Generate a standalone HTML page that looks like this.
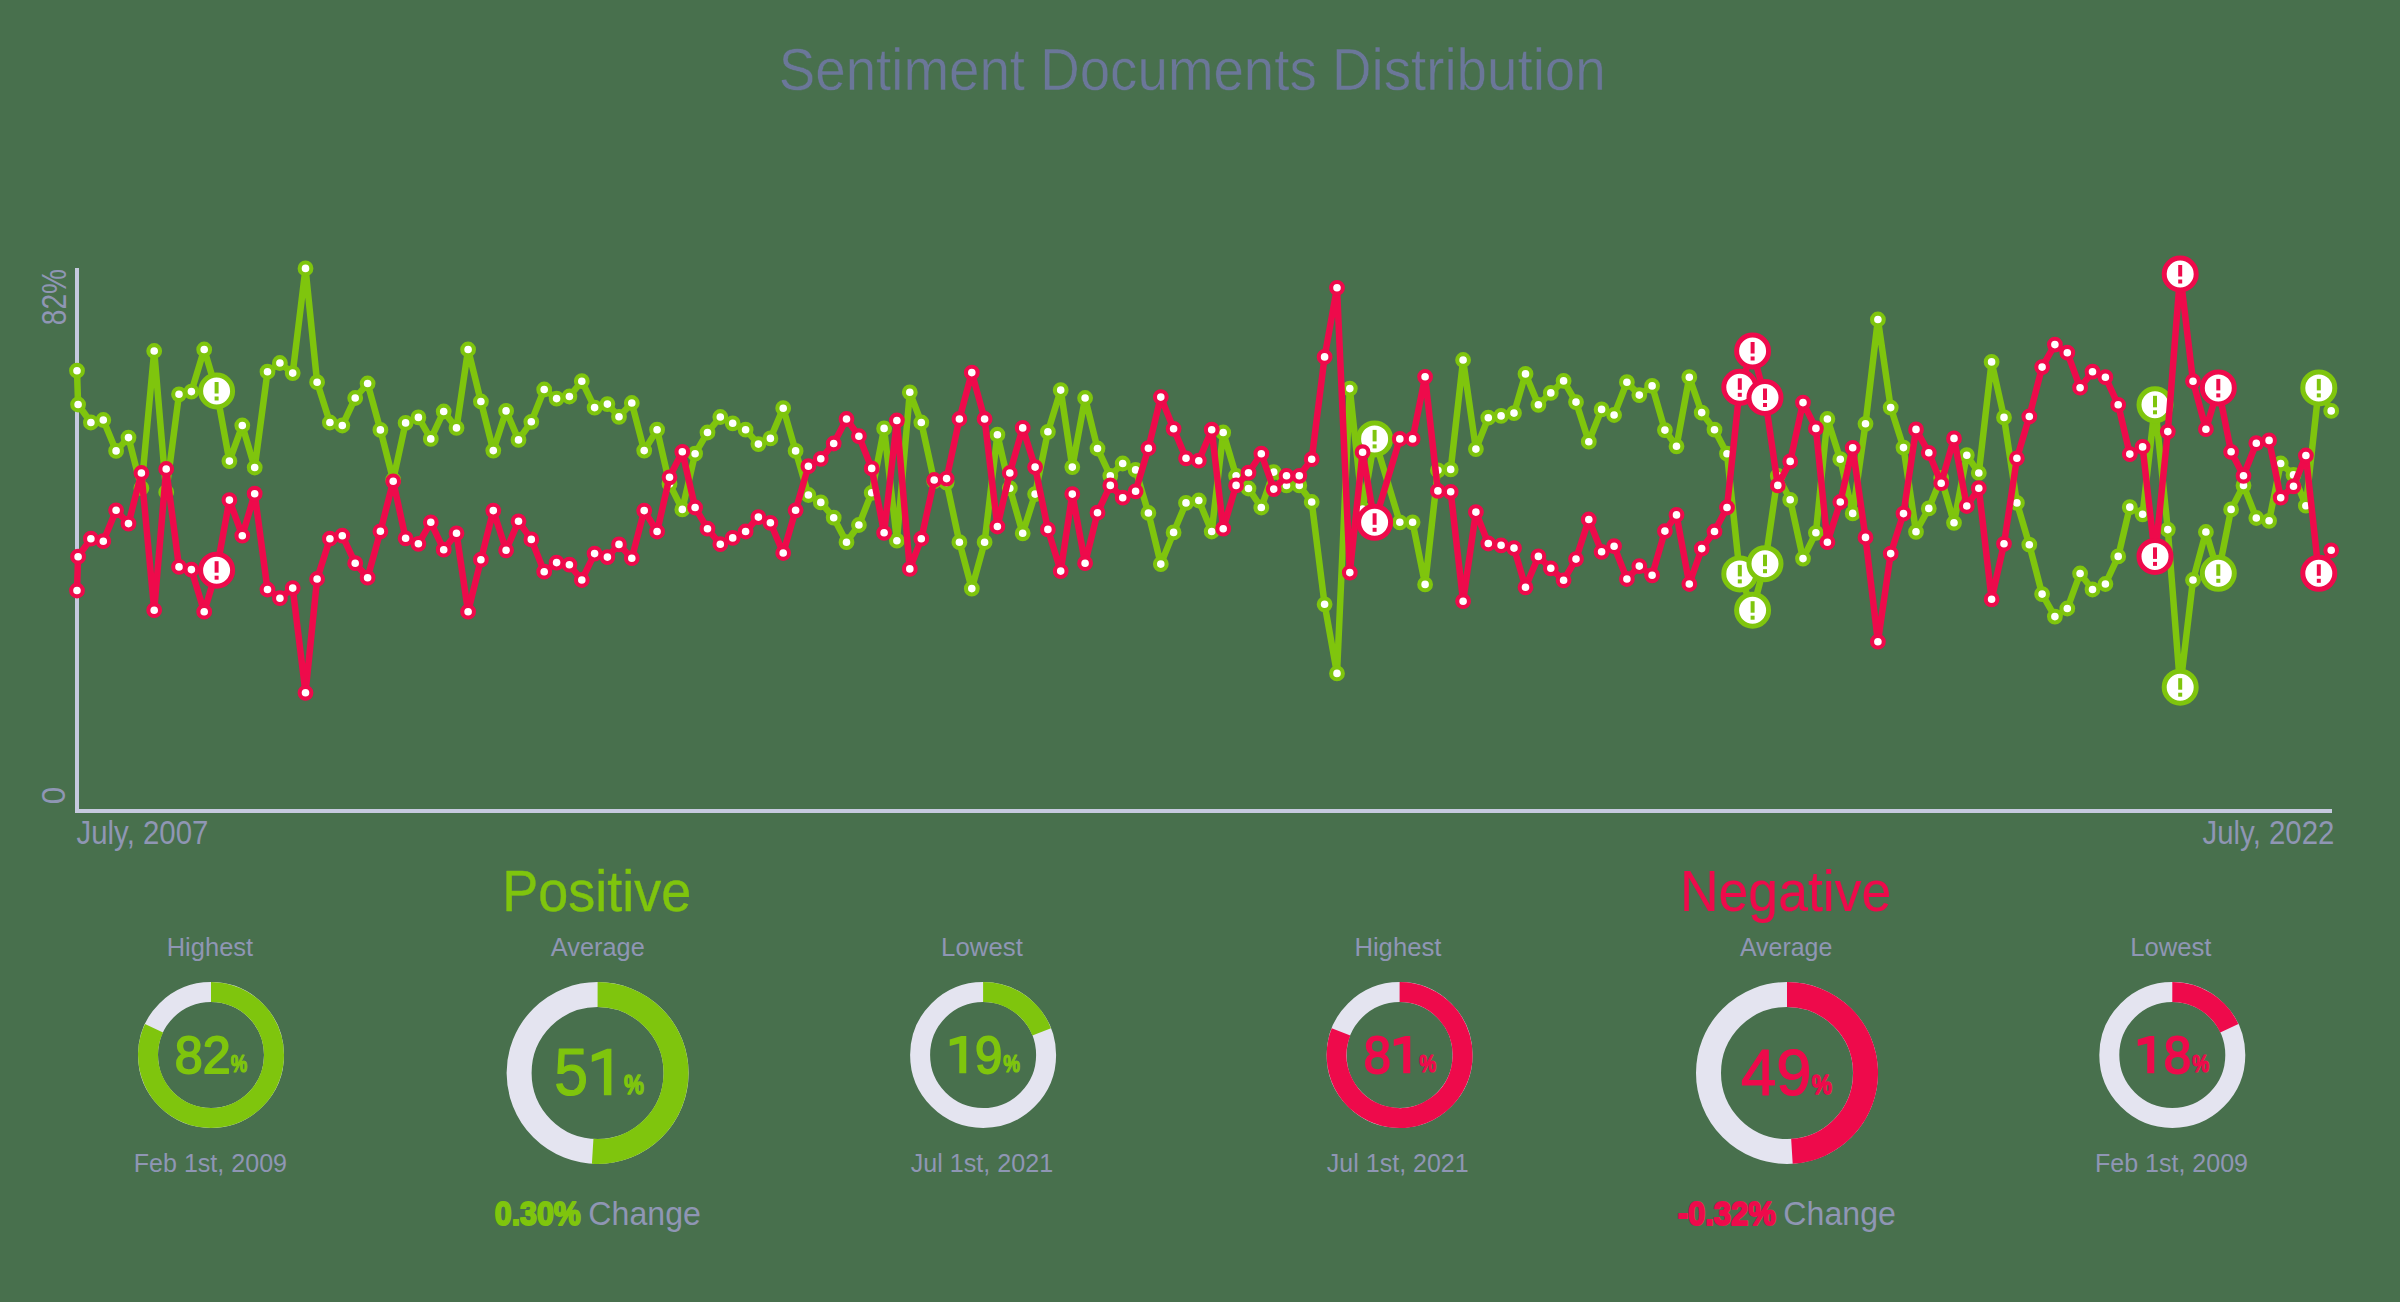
<!DOCTYPE html><html><head><meta charset="utf-8"><title>Sentiment Documents Distribution</title><style>html,body{margin:0;padding:0;background:#48704d;}svg{display:block}</style></head><body><svg width="2400" height="1302" viewBox="0 0 2400 1302" font-family="Liberation Sans, sans-serif">
<rect width="2400" height="1302" fill="#48704d"/>
<text transform="translate(778.73 90.25) scale(0.9294 1)" font-size="58.87" fill="#6b7799" stroke="#48704d" stroke-width="0.5">Sentiment Documents Distribution</text>
<path d="M77 268 V811 H2332" fill="none" stroke="#c6cadf" stroke-width="4"/>
<text transform="translate(0.00 0.00) rotate(-90) translate(-325.21 65.65) scale(0.7953 1)" font-size="35.31" fill="#8f96b4">82%</text>
<text transform="translate(0.00 0.00) rotate(-90) translate(-804.22 64.68) scale(0.9660 1)" font-size="32.49" fill="#8f96b4">0</text>
<text transform="translate(76.53 843.67) scale(0.8930 1)" font-size="32.95" fill="#8f96b4">July, 2007</text>
<text transform="translate(2202.53 843.67) scale(0.8930 1)" font-size="32.95" fill="#8f96b4">July, 2022</text>
<path d="M77.0 370.7 L78.1 404.5 L90.9 422.5 L103.3 420.0 L116.1 450.9 L128.5 437.6 L141.4 488.2 L154.2 351.0 L166.2 492.2 L179.0 394.3 L191.4 391.6 L204.2 349.5 L216.6 391.0 L229.4 461.1 L242.3 425.5 L254.7 467.5 L267.5 371.7 L279.9 363.0 L292.7 373.1 L305.5 268.4 L317.1 382.2 L329.9 422.5 L342.3 425.5 L355.2 398.0 L367.6 383.5 L380.4 429.9 L393.2 479.9 L405.6 422.9 L418.4 417.4 L430.8 438.9 L443.7 411.5 L456.5 427.9 L468.1 349.5 L480.9 401.5 L493.3 450.6 L506.1 410.9 L518.5 439.9 L531.3 421.8 L544.2 389.5 L556.6 398.6 L569.4 396.5 L581.8 381.2 L594.6 407.6 L607.4 404.1 L619.0 416.8 L631.8 403.0 L644.2 450.6 L657.1 429.7 L669.5 483.9 L682.3 509.4 L695.1 453.7 L707.5 432.5 L720.3 417.0 L732.7 423.3 L745.6 429.7 L758.4 444.1 L770.4 438.4 L783.2 408.2 L795.6 450.9 L808.4 495.0 L820.8 502.4 L833.7 517.7 L846.5 542.2 L858.9 525.0 L871.7 492.8 L884.1 428.4 L896.9 540.7 L909.8 392.3 L921.3 422.5 L934.2 481.2 L946.6 482.6 L959.4 542.2 L971.8 588.6 L984.6 542.2 L997.4 434.7 L1009.8 488.2 L1022.7 533.3 L1035.1 494.1 L1047.9 431.8 L1060.7 390.1 L1072.3 467.1 L1085.1 398.0 L1097.5 448.5 L1110.3 475.8 L1122.7 463.5 L1135.6 469.9 L1148.4 513.0 L1160.8 564.1 L1173.6 532.4 L1186.0 502.9 L1198.8 500.5 L1211.7 531.5 L1223.2 432.5 L1236.1 475.8 L1248.5 488.5 L1261.3 507.5 L1273.7 472.1 L1286.5 485.4 L1299.3 485.4 L1311.7 502.0 L1324.6 604.3 L1337.0 673.4 L1349.8 388.6 L1362.6 509.0 L1374.6 438.9 L1399.8 522.3 L1412.6 522.3 L1425.1 584.4 L1437.9 470.3 L1450.7 469.4 L1463.1 360.0 L1475.9 449.1 L1488.3 417.7 L1501.1 415.9 L1514.0 413.1 L1525.5 373.9 L1538.4 404.8 L1550.8 392.9 L1563.6 380.9 L1576.0 402.1 L1588.8 441.7 L1601.6 409.4 L1614.1 415.0 L1626.9 382.2 L1639.3 395.1 L1652.1 385.9 L1664.9 430.1 L1676.5 446.3 L1689.3 377.2 L1701.7 412.6 L1714.5 429.7 L1727.0 453.7 L1739.8 573.9 L1752.6 610.2 L1765.0 563.7 L1777.8 475.8 L1790.2 499.8 L1803.0 558.6 L1815.9 532.8 L1827.4 419.0 L1840.3 459.2 L1852.7 513.4 L1865.5 423.8 L1877.9 319.5 L1890.7 407.6 L1903.5 447.6 L1916.0 531.8 L1928.8 508.4 L1941.2 478.0 L1954.0 522.8 L1966.8 455.2 L1978.8 473.0 L1991.6 361.9 L2004.0 417.4 L2016.9 502.9 L2029.3 544.7 L2042.1 594.1 L2054.9 616.6 L2067.3 608.5 L2080.1 573.5 L2092.5 589.5 L2105.4 584.0 L2118.2 556.4 L2129.8 507.1 L2142.6 514.3 L2155.0 404.8 L2167.8 529.6 L2180.2 687.2 L2193.0 580.0 L2205.9 532.0 L2218.3 573.3 L2231.1 509.4 L2243.5 485.4 L2256.3 518.0 L2269.1 520.8 L2280.7 463.5 L2293.5 474.9 L2305.9 505.7 L2318.8 387.9 L2331.2 410.9" fill="none" stroke="#7fc50d" stroke-width="6.5" stroke-linejoin="round" stroke-linecap="round"/>
<g fill="#fff" stroke="#7fc50d" stroke-width="4.1">
<circle cx="77.0" cy="370.7" r="5.85"/>
<circle cx="78.1" cy="404.5" r="5.85"/>
<circle cx="90.9" cy="422.5" r="5.85"/>
<circle cx="103.3" cy="420.0" r="5.85"/>
<circle cx="116.1" cy="450.9" r="5.85"/>
<circle cx="128.5" cy="437.6" r="5.85"/>
<circle cx="141.4" cy="488.2" r="5.85"/>
<circle cx="154.2" cy="351.0" r="5.85"/>
<circle cx="166.2" cy="492.2" r="5.85"/>
<circle cx="179.0" cy="394.3" r="5.85"/>
<circle cx="191.4" cy="391.6" r="5.85"/>
<circle cx="204.2" cy="349.5" r="5.85"/>
<circle cx="229.4" cy="461.1" r="5.85"/>
<circle cx="242.3" cy="425.5" r="5.85"/>
<circle cx="254.7" cy="467.5" r="5.85"/>
<circle cx="267.5" cy="371.7" r="5.85"/>
<circle cx="279.9" cy="363.0" r="5.85"/>
<circle cx="292.7" cy="373.1" r="5.85"/>
<circle cx="305.5" cy="268.4" r="5.85"/>
<circle cx="317.1" cy="382.2" r="5.85"/>
<circle cx="329.9" cy="422.5" r="5.85"/>
<circle cx="342.3" cy="425.5" r="5.85"/>
<circle cx="355.2" cy="398.0" r="5.85"/>
<circle cx="367.6" cy="383.5" r="5.85"/>
<circle cx="380.4" cy="429.9" r="5.85"/>
<circle cx="393.2" cy="479.9" r="5.85"/>
<circle cx="405.6" cy="422.9" r="5.85"/>
<circle cx="418.4" cy="417.4" r="5.85"/>
<circle cx="430.8" cy="438.9" r="5.85"/>
<circle cx="443.7" cy="411.5" r="5.85"/>
<circle cx="456.5" cy="427.9" r="5.85"/>
<circle cx="468.1" cy="349.5" r="5.85"/>
<circle cx="480.9" cy="401.5" r="5.85"/>
<circle cx="493.3" cy="450.6" r="5.85"/>
<circle cx="506.1" cy="410.9" r="5.85"/>
<circle cx="518.5" cy="439.9" r="5.85"/>
<circle cx="531.3" cy="421.8" r="5.85"/>
<circle cx="544.2" cy="389.5" r="5.85"/>
<circle cx="556.6" cy="398.6" r="5.85"/>
<circle cx="569.4" cy="396.5" r="5.85"/>
<circle cx="581.8" cy="381.2" r="5.85"/>
<circle cx="594.6" cy="407.6" r="5.85"/>
<circle cx="607.4" cy="404.1" r="5.85"/>
<circle cx="619.0" cy="416.8" r="5.85"/>
<circle cx="631.8" cy="403.0" r="5.85"/>
<circle cx="644.2" cy="450.6" r="5.85"/>
<circle cx="657.1" cy="429.7" r="5.85"/>
<circle cx="669.5" cy="483.9" r="5.85"/>
<circle cx="682.3" cy="509.4" r="5.85"/>
<circle cx="695.1" cy="453.7" r="5.85"/>
<circle cx="707.5" cy="432.5" r="5.85"/>
<circle cx="720.3" cy="417.0" r="5.85"/>
<circle cx="732.7" cy="423.3" r="5.85"/>
<circle cx="745.6" cy="429.7" r="5.85"/>
<circle cx="758.4" cy="444.1" r="5.85"/>
<circle cx="770.4" cy="438.4" r="5.85"/>
<circle cx="783.2" cy="408.2" r="5.85"/>
<circle cx="795.6" cy="450.9" r="5.85"/>
<circle cx="808.4" cy="495.0" r="5.85"/>
<circle cx="820.8" cy="502.4" r="5.85"/>
<circle cx="833.7" cy="517.7" r="5.85"/>
<circle cx="846.5" cy="542.2" r="5.85"/>
<circle cx="858.9" cy="525.0" r="5.85"/>
<circle cx="871.7" cy="492.8" r="5.85"/>
<circle cx="884.1" cy="428.4" r="5.85"/>
<circle cx="896.9" cy="540.7" r="5.85"/>
<circle cx="909.8" cy="392.3" r="5.85"/>
<circle cx="921.3" cy="422.5" r="5.85"/>
<circle cx="934.2" cy="481.2" r="5.85"/>
<circle cx="946.6" cy="482.6" r="5.85"/>
<circle cx="959.4" cy="542.2" r="5.85"/>
<circle cx="971.8" cy="588.6" r="5.85"/>
<circle cx="984.6" cy="542.2" r="5.85"/>
<circle cx="997.4" cy="434.7" r="5.85"/>
<circle cx="1009.8" cy="488.2" r="5.85"/>
<circle cx="1022.7" cy="533.3" r="5.85"/>
<circle cx="1035.1" cy="494.1" r="5.85"/>
<circle cx="1047.9" cy="431.8" r="5.85"/>
<circle cx="1060.7" cy="390.1" r="5.85"/>
<circle cx="1072.3" cy="467.1" r="5.85"/>
<circle cx="1085.1" cy="398.0" r="5.85"/>
<circle cx="1097.5" cy="448.5" r="5.85"/>
<circle cx="1110.3" cy="475.8" r="5.85"/>
<circle cx="1122.7" cy="463.5" r="5.85"/>
<circle cx="1135.6" cy="469.9" r="5.85"/>
<circle cx="1148.4" cy="513.0" r="5.85"/>
<circle cx="1160.8" cy="564.1" r="5.85"/>
<circle cx="1173.6" cy="532.4" r="5.85"/>
<circle cx="1186.0" cy="502.9" r="5.85"/>
<circle cx="1198.8" cy="500.5" r="5.85"/>
<circle cx="1211.7" cy="531.5" r="5.85"/>
<circle cx="1223.2" cy="432.5" r="5.85"/>
<circle cx="1236.1" cy="475.8" r="5.85"/>
<circle cx="1248.5" cy="488.5" r="5.85"/>
<circle cx="1261.3" cy="507.5" r="5.85"/>
<circle cx="1273.7" cy="472.1" r="5.85"/>
<circle cx="1286.5" cy="485.4" r="5.85"/>
<circle cx="1299.3" cy="485.4" r="5.85"/>
<circle cx="1311.7" cy="502.0" r="5.85"/>
<circle cx="1324.6" cy="604.3" r="5.85"/>
<circle cx="1337.0" cy="673.4" r="5.85"/>
<circle cx="1349.8" cy="388.6" r="5.85"/>
<circle cx="1362.6" cy="509.0" r="5.85"/>
<circle cx="1399.8" cy="522.3" r="5.85"/>
<circle cx="1412.6" cy="522.3" r="5.85"/>
<circle cx="1425.1" cy="584.4" r="5.85"/>
<circle cx="1437.9" cy="470.3" r="5.85"/>
<circle cx="1450.7" cy="469.4" r="5.85"/>
<circle cx="1463.1" cy="360.0" r="5.85"/>
<circle cx="1475.9" cy="449.1" r="5.85"/>
<circle cx="1488.3" cy="417.7" r="5.85"/>
<circle cx="1501.1" cy="415.9" r="5.85"/>
<circle cx="1514.0" cy="413.1" r="5.85"/>
<circle cx="1525.5" cy="373.9" r="5.85"/>
<circle cx="1538.4" cy="404.8" r="5.85"/>
<circle cx="1550.8" cy="392.9" r="5.85"/>
<circle cx="1563.6" cy="380.9" r="5.85"/>
<circle cx="1576.0" cy="402.1" r="5.85"/>
<circle cx="1588.8" cy="441.7" r="5.85"/>
<circle cx="1601.6" cy="409.4" r="5.85"/>
<circle cx="1614.1" cy="415.0" r="5.85"/>
<circle cx="1626.9" cy="382.2" r="5.85"/>
<circle cx="1639.3" cy="395.1" r="5.85"/>
<circle cx="1652.1" cy="385.9" r="5.85"/>
<circle cx="1664.9" cy="430.1" r="5.85"/>
<circle cx="1676.5" cy="446.3" r="5.85"/>
<circle cx="1689.3" cy="377.2" r="5.85"/>
<circle cx="1701.7" cy="412.6" r="5.85"/>
<circle cx="1714.5" cy="429.7" r="5.85"/>
<circle cx="1727.0" cy="453.7" r="5.85"/>
<circle cx="1777.8" cy="475.8" r="5.85"/>
<circle cx="1790.2" cy="499.8" r="5.85"/>
<circle cx="1803.0" cy="558.6" r="5.85"/>
<circle cx="1815.9" cy="532.8" r="5.85"/>
<circle cx="1827.4" cy="419.0" r="5.85"/>
<circle cx="1840.3" cy="459.2" r="5.85"/>
<circle cx="1852.7" cy="513.4" r="5.85"/>
<circle cx="1865.5" cy="423.8" r="5.85"/>
<circle cx="1877.9" cy="319.5" r="5.85"/>
<circle cx="1890.7" cy="407.6" r="5.85"/>
<circle cx="1903.5" cy="447.6" r="5.85"/>
<circle cx="1916.0" cy="531.8" r="5.85"/>
<circle cx="1928.8" cy="508.4" r="5.85"/>
<circle cx="1941.2" cy="478.0" r="5.85"/>
<circle cx="1954.0" cy="522.8" r="5.85"/>
<circle cx="1966.8" cy="455.2" r="5.85"/>
<circle cx="1978.8" cy="473.0" r="5.85"/>
<circle cx="1991.6" cy="361.9" r="5.85"/>
<circle cx="2004.0" cy="417.4" r="5.85"/>
<circle cx="2016.9" cy="502.9" r="5.85"/>
<circle cx="2029.3" cy="544.7" r="5.85"/>
<circle cx="2042.1" cy="594.1" r="5.85"/>
<circle cx="2054.9" cy="616.6" r="5.85"/>
<circle cx="2067.3" cy="608.5" r="5.85"/>
<circle cx="2080.1" cy="573.5" r="5.85"/>
<circle cx="2092.5" cy="589.5" r="5.85"/>
<circle cx="2105.4" cy="584.0" r="5.85"/>
<circle cx="2118.2" cy="556.4" r="5.85"/>
<circle cx="2129.8" cy="507.1" r="5.85"/>
<circle cx="2142.6" cy="514.3" r="5.85"/>
<circle cx="2167.8" cy="529.6" r="5.85"/>
<circle cx="2193.0" cy="580.0" r="5.85"/>
<circle cx="2205.9" cy="532.0" r="5.85"/>
<circle cx="2231.1" cy="509.4" r="5.85"/>
<circle cx="2243.5" cy="485.4" r="5.85"/>
<circle cx="2256.3" cy="518.0" r="5.85"/>
<circle cx="2269.1" cy="520.8" r="5.85"/>
<circle cx="2280.7" cy="463.5" r="5.85"/>
<circle cx="2293.5" cy="474.9" r="5.85"/>
<circle cx="2305.9" cy="505.7" r="5.85"/>
<circle cx="2331.2" cy="410.9" r="5.85"/>
</g>
<g transform="translate(216.6 391.0)"><circle r="16" fill="#fff" stroke="#7fc50d" stroke-width="5"/><rect x="-2" y="-9" width="4" height="11.5" fill="#7fc50d"/><rect x="-2" y="5.5" width="4" height="4" fill="#7fc50d"/></g>
<g transform="translate(1374.6 438.9)"><circle r="16" fill="#fff" stroke="#7fc50d" stroke-width="5"/><rect x="-2" y="-9" width="4" height="11.5" fill="#7fc50d"/><rect x="-2" y="5.5" width="4" height="4" fill="#7fc50d"/></g>
<g transform="translate(1739.8 573.9)"><circle r="16" fill="#fff" stroke="#7fc50d" stroke-width="5"/><rect x="-2" y="-9" width="4" height="11.5" fill="#7fc50d"/><rect x="-2" y="5.5" width="4" height="4" fill="#7fc50d"/></g>
<g transform="translate(1752.6 610.2)"><circle r="16" fill="#fff" stroke="#7fc50d" stroke-width="5"/><rect x="-2" y="-9" width="4" height="11.5" fill="#7fc50d"/><rect x="-2" y="5.5" width="4" height="4" fill="#7fc50d"/></g>
<g transform="translate(1765.0 563.7)"><circle r="16" fill="#fff" stroke="#7fc50d" stroke-width="5"/><rect x="-2" y="-9" width="4" height="11.5" fill="#7fc50d"/><rect x="-2" y="5.5" width="4" height="4" fill="#7fc50d"/></g>
<g transform="translate(2155.0 404.8)"><circle r="16" fill="#fff" stroke="#7fc50d" stroke-width="5"/><rect x="-2" y="-9" width="4" height="11.5" fill="#7fc50d"/><rect x="-2" y="5.5" width="4" height="4" fill="#7fc50d"/></g>
<g transform="translate(2180.2 687.2)"><circle r="16" fill="#fff" stroke="#7fc50d" stroke-width="5"/><rect x="-2" y="-9" width="4" height="11.5" fill="#7fc50d"/><rect x="-2" y="5.5" width="4" height="4" fill="#7fc50d"/></g>
<g transform="translate(2218.3 573.3)"><circle r="16" fill="#fff" stroke="#7fc50d" stroke-width="5"/><rect x="-2" y="-9" width="4" height="11.5" fill="#7fc50d"/><rect x="-2" y="5.5" width="4" height="4" fill="#7fc50d"/></g>
<g transform="translate(2318.8 387.9)"><circle r="16" fill="#fff" stroke="#7fc50d" stroke-width="5"/><rect x="-2" y="-9" width="4" height="11.5" fill="#7fc50d"/><rect x="-2" y="5.5" width="4" height="4" fill="#7fc50d"/></g>
<path d="M77.0 590.5 L78.1 556.7 L90.9 538.7 L103.3 541.2 L116.1 510.3 L128.5 523.6 L141.4 473.0 L154.2 610.2 L166.2 469.0 L179.0 566.9 L191.4 569.6 L204.2 611.7 L216.6 570.2 L229.4 500.1 L242.3 535.7 L254.7 493.7 L267.5 589.5 L279.9 598.2 L292.7 588.1 L305.5 692.8 L317.1 579.0 L329.9 538.7 L342.3 535.7 L355.2 563.2 L367.6 577.7 L380.4 531.3 L393.2 481.3 L405.6 538.3 L418.4 543.8 L430.8 522.3 L443.7 549.7 L456.5 533.3 L468.1 611.7 L480.9 559.7 L493.3 510.6 L506.1 550.3 L518.5 521.3 L531.3 539.4 L544.2 571.7 L556.6 562.6 L569.4 564.7 L581.8 580.0 L594.6 553.6 L607.4 557.1 L619.0 544.4 L631.8 558.2 L644.2 510.6 L657.1 531.5 L669.5 477.3 L682.3 451.8 L695.1 507.5 L707.5 528.7 L720.3 544.2 L732.7 537.9 L745.6 531.5 L758.4 517.1 L770.4 522.8 L783.2 553.0 L795.6 510.3 L808.4 466.2 L820.8 458.8 L833.7 443.5 L846.5 419.0 L858.9 436.2 L871.7 468.4 L884.1 532.8 L896.9 420.5 L909.8 568.9 L921.3 538.7 L934.2 480.0 L946.6 478.6 L959.4 419.0 L971.8 372.6 L984.6 419.0 L997.4 526.5 L1009.8 473.0 L1022.7 427.9 L1035.1 467.1 L1047.9 529.4 L1060.7 571.1 L1072.3 494.1 L1085.1 563.2 L1097.5 512.7 L1110.3 485.4 L1122.7 497.7 L1135.6 491.3 L1148.4 448.2 L1160.8 397.1 L1173.6 428.8 L1186.0 458.3 L1198.8 460.7 L1211.7 429.7 L1223.2 528.7 L1236.1 485.4 L1248.5 472.7 L1261.3 453.7 L1273.7 489.1 L1286.5 475.8 L1299.3 475.8 L1311.7 459.2 L1324.6 356.9 L1337.0 287.8 L1349.8 572.6 L1362.6 452.2 L1374.6 522.3 L1399.8 438.9 L1412.6 438.9 L1425.1 376.8 L1437.9 490.9 L1450.7 491.8 L1463.1 601.2 L1475.9 512.1 L1488.3 543.5 L1501.1 545.3 L1514.0 548.1 L1525.5 587.3 L1538.4 556.4 L1550.8 568.3 L1563.6 580.3 L1576.0 559.1 L1588.8 519.5 L1601.6 551.8 L1614.1 546.2 L1626.9 579.0 L1639.3 566.1 L1652.1 575.3 L1664.9 531.1 L1676.5 514.9 L1689.3 584.0 L1701.7 548.6 L1714.5 531.5 L1727.0 507.5 L1739.8 387.3 L1752.6 351.0 L1765.0 397.5 L1777.8 485.4 L1790.2 461.4 L1803.0 402.6 L1815.9 428.4 L1827.4 542.2 L1840.3 502.0 L1852.7 447.8 L1865.5 537.4 L1877.9 641.7 L1890.7 553.6 L1903.5 513.6 L1916.0 429.4 L1928.8 452.8 L1941.2 483.2 L1954.0 438.4 L1966.8 506.0 L1978.8 488.2 L1991.6 599.3 L2004.0 543.8 L2016.9 458.3 L2029.3 416.5 L2042.1 367.1 L2054.9 344.6 L2067.3 352.7 L2080.1 387.7 L2092.5 371.7 L2105.4 377.2 L2118.2 404.8 L2129.8 454.1 L2142.6 446.9 L2155.0 556.4 L2167.8 431.6 L2180.2 274.0 L2193.0 381.2 L2205.9 429.2 L2218.3 387.9 L2231.1 451.8 L2243.5 475.8 L2256.3 443.2 L2269.1 440.4 L2280.7 497.7 L2293.5 486.3 L2305.9 455.5 L2318.8 573.3 L2331.2 550.3" fill="none" stroke="#ee0a4b" stroke-width="6.5" stroke-linejoin="round" stroke-linecap="round"/>
<g fill="#fff" stroke="#ee0a4b" stroke-width="4.1">
<circle cx="77.0" cy="590.5" r="5.85"/>
<circle cx="78.1" cy="556.7" r="5.85"/>
<circle cx="90.9" cy="538.7" r="5.85"/>
<circle cx="103.3" cy="541.2" r="5.85"/>
<circle cx="116.1" cy="510.3" r="5.85"/>
<circle cx="128.5" cy="523.6" r="5.85"/>
<circle cx="141.4" cy="473.0" r="5.85"/>
<circle cx="154.2" cy="610.2" r="5.85"/>
<circle cx="166.2" cy="469.0" r="5.85"/>
<circle cx="179.0" cy="566.9" r="5.85"/>
<circle cx="191.4" cy="569.6" r="5.85"/>
<circle cx="204.2" cy="611.7" r="5.85"/>
<circle cx="229.4" cy="500.1" r="5.85"/>
<circle cx="242.3" cy="535.7" r="5.85"/>
<circle cx="254.7" cy="493.7" r="5.85"/>
<circle cx="267.5" cy="589.5" r="5.85"/>
<circle cx="279.9" cy="598.2" r="5.85"/>
<circle cx="292.7" cy="588.1" r="5.85"/>
<circle cx="305.5" cy="692.8" r="5.85"/>
<circle cx="317.1" cy="579.0" r="5.85"/>
<circle cx="329.9" cy="538.7" r="5.85"/>
<circle cx="342.3" cy="535.7" r="5.85"/>
<circle cx="355.2" cy="563.2" r="5.85"/>
<circle cx="367.6" cy="577.7" r="5.85"/>
<circle cx="380.4" cy="531.3" r="5.85"/>
<circle cx="393.2" cy="481.3" r="5.85"/>
<circle cx="405.6" cy="538.3" r="5.85"/>
<circle cx="418.4" cy="543.8" r="5.85"/>
<circle cx="430.8" cy="522.3" r="5.85"/>
<circle cx="443.7" cy="549.7" r="5.85"/>
<circle cx="456.5" cy="533.3" r="5.85"/>
<circle cx="468.1" cy="611.7" r="5.85"/>
<circle cx="480.9" cy="559.7" r="5.85"/>
<circle cx="493.3" cy="510.6" r="5.85"/>
<circle cx="506.1" cy="550.3" r="5.85"/>
<circle cx="518.5" cy="521.3" r="5.85"/>
<circle cx="531.3" cy="539.4" r="5.85"/>
<circle cx="544.2" cy="571.7" r="5.85"/>
<circle cx="556.6" cy="562.6" r="5.85"/>
<circle cx="569.4" cy="564.7" r="5.85"/>
<circle cx="581.8" cy="580.0" r="5.85"/>
<circle cx="594.6" cy="553.6" r="5.85"/>
<circle cx="607.4" cy="557.1" r="5.85"/>
<circle cx="619.0" cy="544.4" r="5.85"/>
<circle cx="631.8" cy="558.2" r="5.85"/>
<circle cx="644.2" cy="510.6" r="5.85"/>
<circle cx="657.1" cy="531.5" r="5.85"/>
<circle cx="669.5" cy="477.3" r="5.85"/>
<circle cx="682.3" cy="451.8" r="5.85"/>
<circle cx="695.1" cy="507.5" r="5.85"/>
<circle cx="707.5" cy="528.7" r="5.85"/>
<circle cx="720.3" cy="544.2" r="5.85"/>
<circle cx="732.7" cy="537.9" r="5.85"/>
<circle cx="745.6" cy="531.5" r="5.85"/>
<circle cx="758.4" cy="517.1" r="5.85"/>
<circle cx="770.4" cy="522.8" r="5.85"/>
<circle cx="783.2" cy="553.0" r="5.85"/>
<circle cx="795.6" cy="510.3" r="5.85"/>
<circle cx="808.4" cy="466.2" r="5.85"/>
<circle cx="820.8" cy="458.8" r="5.85"/>
<circle cx="833.7" cy="443.5" r="5.85"/>
<circle cx="846.5" cy="419.0" r="5.85"/>
<circle cx="858.9" cy="436.2" r="5.85"/>
<circle cx="871.7" cy="468.4" r="5.85"/>
<circle cx="884.1" cy="532.8" r="5.85"/>
<circle cx="896.9" cy="420.5" r="5.85"/>
<circle cx="909.8" cy="568.9" r="5.85"/>
<circle cx="921.3" cy="538.7" r="5.85"/>
<circle cx="934.2" cy="480.0" r="5.85"/>
<circle cx="946.6" cy="478.6" r="5.85"/>
<circle cx="959.4" cy="419.0" r="5.85"/>
<circle cx="971.8" cy="372.6" r="5.85"/>
<circle cx="984.6" cy="419.0" r="5.85"/>
<circle cx="997.4" cy="526.5" r="5.85"/>
<circle cx="1009.8" cy="473.0" r="5.85"/>
<circle cx="1022.7" cy="427.9" r="5.85"/>
<circle cx="1035.1" cy="467.1" r="5.85"/>
<circle cx="1047.9" cy="529.4" r="5.85"/>
<circle cx="1060.7" cy="571.1" r="5.85"/>
<circle cx="1072.3" cy="494.1" r="5.85"/>
<circle cx="1085.1" cy="563.2" r="5.85"/>
<circle cx="1097.5" cy="512.7" r="5.85"/>
<circle cx="1110.3" cy="485.4" r="5.85"/>
<circle cx="1122.7" cy="497.7" r="5.85"/>
<circle cx="1135.6" cy="491.3" r="5.85"/>
<circle cx="1148.4" cy="448.2" r="5.85"/>
<circle cx="1160.8" cy="397.1" r="5.85"/>
<circle cx="1173.6" cy="428.8" r="5.85"/>
<circle cx="1186.0" cy="458.3" r="5.85"/>
<circle cx="1198.8" cy="460.7" r="5.85"/>
<circle cx="1211.7" cy="429.7" r="5.85"/>
<circle cx="1223.2" cy="528.7" r="5.85"/>
<circle cx="1236.1" cy="485.4" r="5.85"/>
<circle cx="1248.5" cy="472.7" r="5.85"/>
<circle cx="1261.3" cy="453.7" r="5.85"/>
<circle cx="1273.7" cy="489.1" r="5.85"/>
<circle cx="1286.5" cy="475.8" r="5.85"/>
<circle cx="1299.3" cy="475.8" r="5.85"/>
<circle cx="1311.7" cy="459.2" r="5.85"/>
<circle cx="1324.6" cy="356.9" r="5.85"/>
<circle cx="1337.0" cy="287.8" r="5.85"/>
<circle cx="1349.8" cy="572.6" r="5.85"/>
<circle cx="1362.6" cy="452.2" r="5.85"/>
<circle cx="1399.8" cy="438.9" r="5.85"/>
<circle cx="1412.6" cy="438.9" r="5.85"/>
<circle cx="1425.1" cy="376.8" r="5.85"/>
<circle cx="1437.9" cy="490.9" r="5.85"/>
<circle cx="1450.7" cy="491.8" r="5.85"/>
<circle cx="1463.1" cy="601.2" r="5.85"/>
<circle cx="1475.9" cy="512.1" r="5.85"/>
<circle cx="1488.3" cy="543.5" r="5.85"/>
<circle cx="1501.1" cy="545.3" r="5.85"/>
<circle cx="1514.0" cy="548.1" r="5.85"/>
<circle cx="1525.5" cy="587.3" r="5.85"/>
<circle cx="1538.4" cy="556.4" r="5.85"/>
<circle cx="1550.8" cy="568.3" r="5.85"/>
<circle cx="1563.6" cy="580.3" r="5.85"/>
<circle cx="1576.0" cy="559.1" r="5.85"/>
<circle cx="1588.8" cy="519.5" r="5.85"/>
<circle cx="1601.6" cy="551.8" r="5.85"/>
<circle cx="1614.1" cy="546.2" r="5.85"/>
<circle cx="1626.9" cy="579.0" r="5.85"/>
<circle cx="1639.3" cy="566.1" r="5.85"/>
<circle cx="1652.1" cy="575.3" r="5.85"/>
<circle cx="1664.9" cy="531.1" r="5.85"/>
<circle cx="1676.5" cy="514.9" r="5.85"/>
<circle cx="1689.3" cy="584.0" r="5.85"/>
<circle cx="1701.7" cy="548.6" r="5.85"/>
<circle cx="1714.5" cy="531.5" r="5.85"/>
<circle cx="1727.0" cy="507.5" r="5.85"/>
<circle cx="1777.8" cy="485.4" r="5.85"/>
<circle cx="1790.2" cy="461.4" r="5.85"/>
<circle cx="1803.0" cy="402.6" r="5.85"/>
<circle cx="1815.9" cy="428.4" r="5.85"/>
<circle cx="1827.4" cy="542.2" r="5.85"/>
<circle cx="1840.3" cy="502.0" r="5.85"/>
<circle cx="1852.7" cy="447.8" r="5.85"/>
<circle cx="1865.5" cy="537.4" r="5.85"/>
<circle cx="1877.9" cy="641.7" r="5.85"/>
<circle cx="1890.7" cy="553.6" r="5.85"/>
<circle cx="1903.5" cy="513.6" r="5.85"/>
<circle cx="1916.0" cy="429.4" r="5.85"/>
<circle cx="1928.8" cy="452.8" r="5.85"/>
<circle cx="1941.2" cy="483.2" r="5.85"/>
<circle cx="1954.0" cy="438.4" r="5.85"/>
<circle cx="1966.8" cy="506.0" r="5.85"/>
<circle cx="1978.8" cy="488.2" r="5.85"/>
<circle cx="1991.6" cy="599.3" r="5.85"/>
<circle cx="2004.0" cy="543.8" r="5.85"/>
<circle cx="2016.9" cy="458.3" r="5.85"/>
<circle cx="2029.3" cy="416.5" r="5.85"/>
<circle cx="2042.1" cy="367.1" r="5.85"/>
<circle cx="2054.9" cy="344.6" r="5.85"/>
<circle cx="2067.3" cy="352.7" r="5.85"/>
<circle cx="2080.1" cy="387.7" r="5.85"/>
<circle cx="2092.5" cy="371.7" r="5.85"/>
<circle cx="2105.4" cy="377.2" r="5.85"/>
<circle cx="2118.2" cy="404.8" r="5.85"/>
<circle cx="2129.8" cy="454.1" r="5.85"/>
<circle cx="2142.6" cy="446.9" r="5.85"/>
<circle cx="2167.8" cy="431.6" r="5.85"/>
<circle cx="2193.0" cy="381.2" r="5.85"/>
<circle cx="2205.9" cy="429.2" r="5.85"/>
<circle cx="2231.1" cy="451.8" r="5.85"/>
<circle cx="2243.5" cy="475.8" r="5.85"/>
<circle cx="2256.3" cy="443.2" r="5.85"/>
<circle cx="2269.1" cy="440.4" r="5.85"/>
<circle cx="2280.7" cy="497.7" r="5.85"/>
<circle cx="2293.5" cy="486.3" r="5.85"/>
<circle cx="2305.9" cy="455.5" r="5.85"/>
<circle cx="2331.2" cy="550.3" r="5.85"/>
</g>
<g transform="translate(216.6 570.2)"><circle r="16" fill="#fff" stroke="#ee0a4b" stroke-width="5"/><rect x="-2" y="-9" width="4" height="11.5" fill="#ee0a4b"/><rect x="-2" y="5.5" width="4" height="4" fill="#ee0a4b"/></g>
<g transform="translate(1374.6 522.3)"><circle r="16" fill="#fff" stroke="#ee0a4b" stroke-width="5"/><rect x="-2" y="-9" width="4" height="11.5" fill="#ee0a4b"/><rect x="-2" y="5.5" width="4" height="4" fill="#ee0a4b"/></g>
<g transform="translate(1739.8 387.3)"><circle r="16" fill="#fff" stroke="#ee0a4b" stroke-width="5"/><rect x="-2" y="-9" width="4" height="11.5" fill="#ee0a4b"/><rect x="-2" y="5.5" width="4" height="4" fill="#ee0a4b"/></g>
<g transform="translate(1752.6 351.0)"><circle r="16" fill="#fff" stroke="#ee0a4b" stroke-width="5"/><rect x="-2" y="-9" width="4" height="11.5" fill="#ee0a4b"/><rect x="-2" y="5.5" width="4" height="4" fill="#ee0a4b"/></g>
<g transform="translate(1765.0 397.5)"><circle r="16" fill="#fff" stroke="#ee0a4b" stroke-width="5"/><rect x="-2" y="-9" width="4" height="11.5" fill="#ee0a4b"/><rect x="-2" y="5.5" width="4" height="4" fill="#ee0a4b"/></g>
<g transform="translate(2155.0 556.4)"><circle r="16" fill="#fff" stroke="#ee0a4b" stroke-width="5"/><rect x="-2" y="-9" width="4" height="11.5" fill="#ee0a4b"/><rect x="-2" y="5.5" width="4" height="4" fill="#ee0a4b"/></g>
<g transform="translate(2180.2 274.0)"><circle r="16" fill="#fff" stroke="#ee0a4b" stroke-width="5"/><rect x="-2" y="-9" width="4" height="11.5" fill="#ee0a4b"/><rect x="-2" y="5.5" width="4" height="4" fill="#ee0a4b"/></g>
<g transform="translate(2218.3 387.9)"><circle r="16" fill="#fff" stroke="#ee0a4b" stroke-width="5"/><rect x="-2" y="-9" width="4" height="11.5" fill="#ee0a4b"/><rect x="-2" y="5.5" width="4" height="4" fill="#ee0a4b"/></g>
<g transform="translate(2318.8 573.3)"><circle r="16" fill="#fff" stroke="#ee0a4b" stroke-width="5"/><rect x="-2" y="-9" width="4" height="11.5" fill="#ee0a4b"/><rect x="-2" y="5.5" width="4" height="4" fill="#ee0a4b"/></g>
<text transform="translate(502.28 910.70) scale(0.9398 1)" font-size="57.41" fill="#7fc50d" stroke="#7fc50d" stroke-width="0.4" stroke-linejoin="round">Positive</text>
<text transform="translate(1679.91 910.80) scale(0.9280 1)" font-size="57.70" fill="#ee0a4b" stroke="#ee0a4b" stroke-width="0.2" stroke-linejoin="round">Negative</text>
<text transform="translate(166.71 956.00) scale(0.9639 1)" font-size="26.45" fill="#8f96b4">Highest</text>
<circle cx="211" cy="1055" r="63.0" fill="none" stroke="#e4e4f0" stroke-width="20"/>
<path d="M211 992.0 A63.0 63.0 0 1 1 154.00 1028.18" fill="none" stroke="#7fc50d" stroke-width="20"/>
<text transform="translate(174.74 1072.83) scale(0.9733 1)" font-size="51.62" fill="#7fc50d" stroke="#7fc50d" stroke-width="1.8" stroke-linejoin="round">82</text>
<text transform="translate(230.64 1072.46) scale(0.7662 1)" font-size="24.22" fill="#7fc50d" font-weight="bold" stroke="#7fc50d" stroke-width="1.2" stroke-linejoin="round">%</text>
<text transform="translate(133.74 1172.30) scale(0.9747 1)" font-size="25.73" fill="#8f96b4">Feb 1st, 2009</text>
<text transform="translate(550.85 956.00) scale(0.9585 1)" font-size="26.45" fill="#8f96b4">Average</text>
<circle cx="597.6" cy="1073" r="78.5" fill="none" stroke="#e4e4f0" stroke-width="25"/>
<path d="M597.6 994.5 A78.5 78.5 0 1 1 592.67 1151.35" fill="none" stroke="#7fc50d" stroke-width="25"/>
<text transform="translate(554.27 1094.84) scale(0.9200 1)" font-size="66.05" fill="#7fc50d" stroke="#7fc50d" stroke-width="1.2" stroke-linejoin="round">5</text>
<path d="M611.4 1048.8 L611.4 1095.3 L603.9 1095.3 L603.9 1057.75 L591.8 1062.1 L591.8 1054.8999999999999 L607.1 1048.8 Z" fill="#7fc50d"/>
<text transform="translate(623.94 1094.28) scale(0.8058 1)" font-size="27.84" fill="#7fc50d" font-weight="bold" stroke="#7fc50d" stroke-width="1.4" stroke-linejoin="round">%</text>
<text transform="translate(494.79 1225.13) scale(0.8962 1)" font-size="33.85" fill="#7fc50d" font-weight="bold" stroke="#7fc50d" stroke-width="2.0" stroke-linejoin="round">0.30%</text>
<text transform="translate(588.36 1225.18) scale(0.9891 1)" font-size="32.49" fill="#8f96b4">Change</text>
<text transform="translate(941.08 956.00) scale(0.9757 1)" font-size="26.45" fill="#8f96b4">Lowest</text>
<circle cx="983.1" cy="1055" r="63.0" fill="none" stroke="#e4e4f0" stroke-width="20"/>
<path d="M983.1 992.0 A63.0 63.0 0 0 1 1041.68 1031.81" fill="none" stroke="#7fc50d" stroke-width="20"/>
<path d="M966.25 1035.9 L966.25 1073.3 L959.25 1073.3 L959.25 1043.5 L949.75 1045.9 L949.75 1039.6000000000001 L961.25 1035.9 Z" fill="#7fc50d"/>
<text transform="translate(975.09 1072.83) scale(0.9518 1)" font-size="51.62" fill="#7fc50d" stroke="#7fc50d" stroke-width="1.8" stroke-linejoin="round">9</text>
<text transform="translate(1003.13 1072.46) scale(0.7785 1)" font-size="24.22" fill="#7fc50d" font-weight="bold" stroke="#7fc50d" stroke-width="1.2" stroke-linejoin="round">%</text>
<text transform="translate(910.80 1172.30) scale(0.9764 1)" font-size="25.73" fill="#8f96b4">Jul 1st, 2021</text>
<text transform="translate(1354.39 956.00) scale(0.9708 1)" font-size="26.45" fill="#8f96b4">Highest</text>
<circle cx="1399.6" cy="1055" r="63.0" fill="none" stroke="#e4e4f0" stroke-width="20"/>
<path d="M1399.6 992.0 A63.0 63.0 0 1 1 1341.02 1031.81" fill="none" stroke="#ee0a4b" stroke-width="20"/>
<text transform="translate(1363.80 1072.83) scale(0.9459 1)" font-size="51.62" fill="#ee0a4b" stroke="#ee0a4b" stroke-width="1.8" stroke-linejoin="round">8</text>
<path d="M1410.25 1035.9 L1410.25 1073.3 L1403.25 1073.3 L1403.25 1043.5 L1393.75 1045.9 L1393.75 1039.6000000000001 L1405.25 1035.9 Z" fill="#ee0a4b"/>
<text transform="translate(1419.13 1072.46) scale(0.7785 1)" font-size="24.22" fill="#ee0a4b" font-weight="bold" stroke="#ee0a4b" stroke-width="1.2" stroke-linejoin="round">%</text>
<text transform="translate(1326.80 1172.30) scale(0.9730 1)" font-size="25.73" fill="#8f96b4">Jul 1st, 2021</text>
<text transform="translate(1739.95 956.00) scale(0.9430 1)" font-size="26.45" fill="#8f96b4">Average</text>
<circle cx="1787" cy="1073" r="78.5" fill="none" stroke="#e4e4f0" stroke-width="25"/>
<path d="M1787 994.5 A78.5 78.5 0 0 1 1791.93 1151.35" fill="none" stroke="#ee0a4b" stroke-width="25"/>
<text transform="translate(1741.04 1094.55) scale(0.9791 1)" font-size="64.69" fill="#ee0a4b" stroke="#ee0a4b" stroke-width="1.2" stroke-linejoin="round">49</text>
<text transform="translate(1811.83 1094.28) scale(0.8144 1)" font-size="27.84" fill="#ee0a4b" font-weight="bold" stroke="#ee0a4b" stroke-width="1.4" stroke-linejoin="round">%</text>
<text transform="translate(1677.79 1225.13) scale(0.9140 1)" font-size="33.85" fill="#ee0a4b" font-weight="bold" stroke="#ee0a4b" stroke-width="2.0" stroke-linejoin="round">-0.32%</text>
<text transform="translate(1783.36 1225.18) scale(0.9891 1)" font-size="32.49" fill="#8f96b4">Change</text>
<text transform="translate(2130.19 956.00) scale(0.9708 1)" font-size="26.45" fill="#8f96b4">Lowest</text>
<circle cx="2172.3" cy="1055" r="63.0" fill="none" stroke="#e4e4f0" stroke-width="20"/>
<path d="M2172.3 992.0 A63.0 63.0 0 0 1 2229.30 1028.18" fill="none" stroke="#ee0a4b" stroke-width="20"/>
<path d="M2154.25 1035.9 L2154.25 1073.3 L2147.25 1073.3 L2147.25 1043.5 L2137.75 1045.9 L2137.75 1039.6000000000001 L2149.25 1035.9 Z" fill="#ee0a4b"/>
<text transform="translate(2163.78 1072.83) scale(0.9562 1)" font-size="51.62" fill="#ee0a4b" stroke="#ee0a4b" stroke-width="1.8" stroke-linejoin="round">8</text>
<text transform="translate(2192.13 1072.46) scale(0.7785 1)" font-size="24.22" fill="#ee0a4b" font-weight="bold" stroke="#ee0a4b" stroke-width="1.2" stroke-linejoin="round">%</text>
<text transform="translate(2094.95 1172.30) scale(0.9734 1)" font-size="25.73" fill="#8f96b4">Feb 1st, 2009</text>
</svg></body></html>
